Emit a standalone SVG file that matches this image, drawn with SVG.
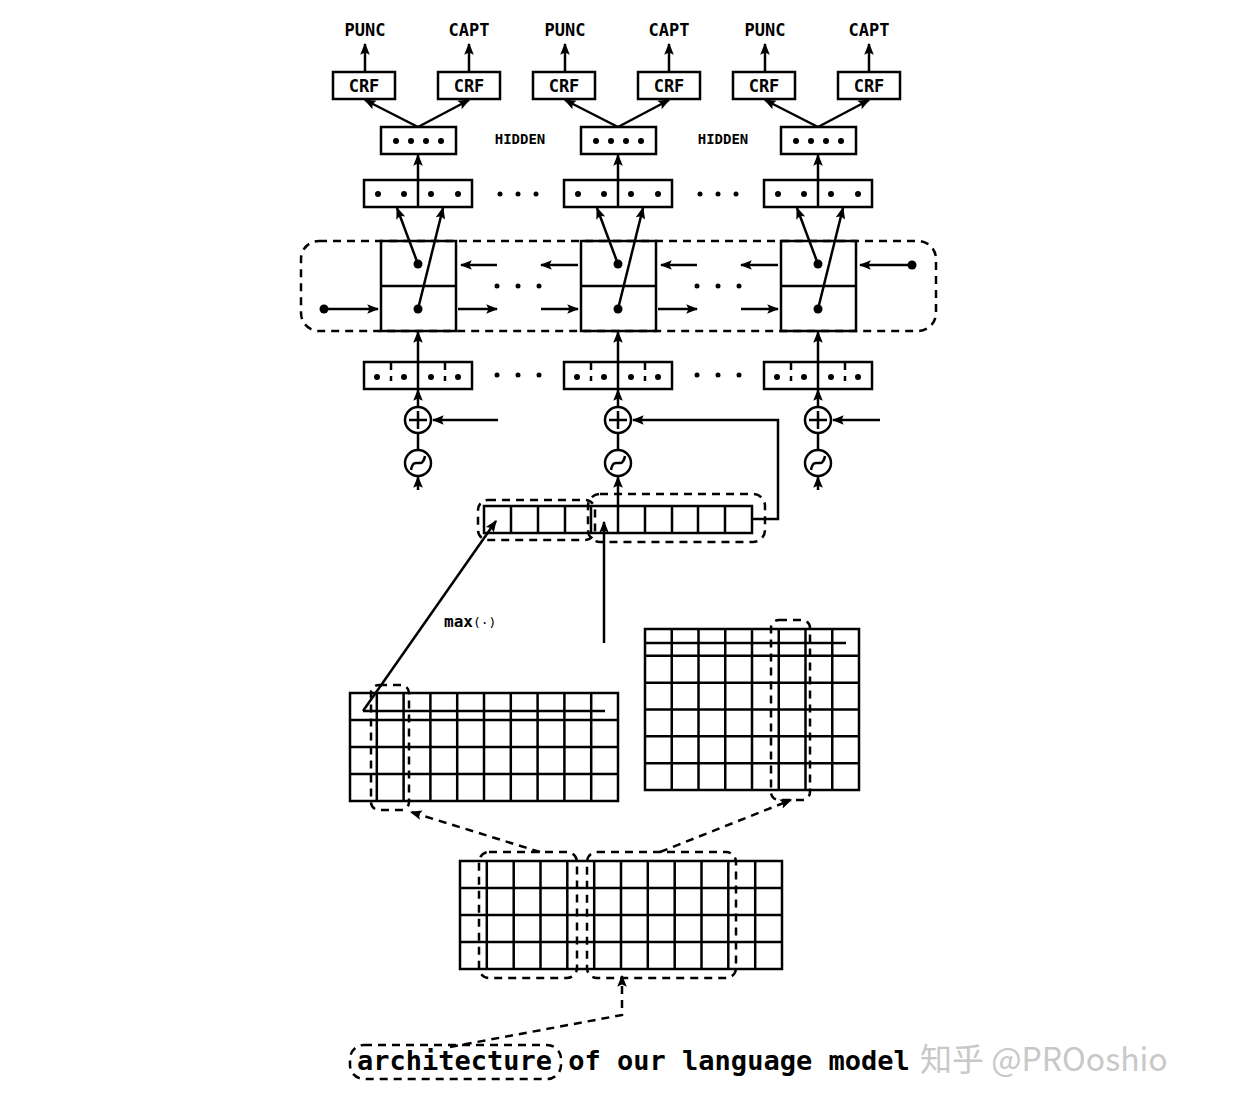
<svg xmlns="http://www.w3.org/2000/svg" width="1240" height="1109" viewBox="0 0 1240 1109">
<style>
.s{fill:none;stroke:#000;stroke-width:2.5}
.d{fill:none;stroke:#000;stroke-width:2.5;stroke-dasharray:8 6}
.b{fill:#fff;stroke:#000;stroke-width:2.5}
.t{font-family:"DejaVu Sans Mono",monospace;font-weight:bold;fill:#000}
.a{fill:none;stroke:#000;stroke-width:2.5;marker-end:url(#ah)}
.ad{fill:none;stroke:#000;stroke-width:2.5;stroke-dasharray:8 6;marker-end:url(#ah)}
</style>
<defs>
<marker id="ah" viewBox="0 0 10 10" refX="9" refY="5" markerWidth="12" markerHeight="12" markerUnits="userSpaceOnUse" orient="auto"><path d="M0,1 L10,5 L0,9 L2,5z" fill="#000"/></marker>
<g id="col">
<text class="t" x="-53" y="36" font-size="17" text-anchor="middle">PUNC</text>
<text class="t" x="51" y="36" font-size="17" text-anchor="middle">CAPT</text>
<rect class="b" x="-85" y="72" width="62" height="27"/>
<rect class="b" x="20" y="72" width="62" height="27"/>
<text class="t" x="-54" y="92" font-size="17" text-anchor="middle">CRF</text>
<text class="t" x="51" y="92" font-size="17" text-anchor="middle">CRF</text>
<rect class="b" x="-37" y="127" width="75" height="27"/>
<g fill="#000"><circle cx="-22" cy="141" r="3"/><circle cx="-7" cy="141" r="3"/><circle cx="8" cy="141" r="3"/><circle cx="23" cy="141" r="3"/></g>
<rect class="b" x="-54" y="180" width="108" height="27"/><path class="s" d="M0,180V207"/>
<g fill="#000"><circle cx="-40" cy="194" r="3"/><circle cx="-14" cy="194" r="3"/><circle cx="13" cy="194" r="3"/><circle cx="40" cy="194" r="3"/></g>
<rect class="b" x="-37" y="241" width="75" height="90"/><path class="s" d="M-37,286H38"/>
<circle cx="0" cy="264" r="4.5"/><circle cx="0" cy="309" r="4.5"/>
<rect class="b" x="-54" y="362" width="108" height="27"/>
<path class="s" d="M0,362V389"/><path class="s" d="M-27,362v8M-27,376v5M27,362v8M27,376v5"/>
<g fill="#000"><circle cx="-41" cy="377" r="3"/><circle cx="-14" cy="377" r="3"/><circle cx="13" cy="377" r="3"/><circle cx="40" cy="377" r="3"/></g>
<circle class="b" cx="0" cy="420" r="13"/><path class="s" d="M-9,420H9M0,411V429"/>
<circle class="b" cx="0" cy="463" r="13"/><path class="s" d="M-7,470C-4,455 4,471 7,456"/>
<path class="a" d="M-53,72V44"/><path class="a" d="M51,72V44"/>
<path class="a" d="M0,127L-53,100"/><path class="a" d="M0,127L51,100"/>
<path class="a" d="M0,180V155"/>
<path class="a" d="M0,264L-21,208"/><path class="a" d="M0,309L25,208"/>
<path class="a" d="M0,362V332"/>
<path class="a" d="M0,407V390"/>
<path class="s" d="M0,433V450"/>
<path class="a" d="M0,490V477"/>
</g>
</defs>
<g id="columns">
<use href="#col" x="418"/>
<use href="#col" x="618"/>
<use href="#col" x="818"/>
</g>
<g id="labels" class="t" font-size="14">
<text x="520" y="144" text-anchor="middle">HIDDEN</text>
<text x="723" y="144" text-anchor="middle">HIDDEN</text>
<text x="444" y="627" font-size="16">max<tspan font-size="13" font-weight="normal">(·)</tspan></text>
</g>
<g id="dots" fill="#000">
<circle cx="500" cy="194" r="2.5"/><circle cx="518" cy="194" r="2.5"/><circle cx="536" cy="194" r="2.5"/>
<circle cx="700" cy="194" r="2.5"/><circle cx="718" cy="194" r="2.5"/><circle cx="736" cy="194" r="2.5"/>
<circle cx="497" cy="286" r="2.5"/><circle cx="518" cy="286" r="2.5"/><circle cx="539" cy="286" r="2.5"/>
<circle cx="697" cy="286" r="2.5"/><circle cx="718" cy="286" r="2.5"/><circle cx="739" cy="286" r="2.5"/>
<circle cx="497" cy="375" r="2.5"/><circle cx="518" cy="375" r="2.5"/><circle cx="539" cy="375" r="2.5"/>
<circle cx="697" cy="375" r="2.5"/><circle cx="718" cy="375" r="2.5"/><circle cx="739" cy="375" r="2.5"/>
<circle cx="324" cy="309" r="4.5"/><circle cx="912" cy="265" r="4.5"/>
</g>
<g id="lstm-frame"><rect class="d" x="301" y="241" width="635" height="90" rx="18"/></g>
<g id="vector">
<rect class="b" x="484" y="506" width="268" height="27"/>
<path class="s" d="M511,506v27M538,506v27M565,506v27M591,506v27M618,506v27M645,506v27M672,506v27M698,506v27M725,506v27"/>
<rect class="d" x="478" y="500" width="117" height="40" rx="10"/>
<rect class="d" x="588" y="494" width="177" height="48" rx="12"/>
</g>
<g id="grid-left">
<rect class="s" x="350" y="693" width="268" height="108"/>
<path class="s" d="M376.8,693v108M403.6,693v108M430.4,693v108M457.2,693v108M484,693v108M510.8,693v108M537.6,693v108M564.4,693v108M591.2,693v108M350,720h268M350,747h268M350,774h268M363,711H605"/>
<rect class="d" x="371" y="685" width="38" height="125" rx="8"/>
</g>
<g id="grid-right">
<rect class="s" x="645" y="629" width="214" height="161"/>
<path class="s" d="M671.75,629v161M698.5,629v161M725.25,629v161M752,629v161M778.75,629v161M805.5,629v161M832.25,629v161M645,655.8h214M645,682.7h214M645,709.5h214M645,736.3h214M645,763.2h214M645,643H846"/>
<rect class="d" x="771" y="620" width="39" height="180" rx="8"/>
</g>
<g id="grid-bottom">
<rect class="s" x="460" y="861" width="322" height="108"/>
<path class="s" d="M486.8,861v108M513.7,861v108M540.5,861v108M567.3,861v108M594.2,861v108M621,861v108M647.8,861v108M674.7,861v108M701.5,861v108M728.3,861v108M755.2,861v108M460,888h322M460,915h322M460,942h322"/>
<rect class="d" x="479" y="852" width="98" height="126" rx="10"/>
<rect class="d" x="587" y="852" width="149" height="126" rx="10"/>
</g>
<g id="connectors">
<path class="a" d="M324,309H378"/>
<path class="a" d="M912,265H860"/>
<path class="a" d="M497,265H461"/><path class="a" d="M578,265H541"/>
<path class="a" d="M697,265H661"/><path class="a" d="M778,265H741"/>
<path class="a" d="M458,309H497"/><path class="a" d="M541,309H578"/>
<path class="a" d="M658,309H697"/><path class="a" d="M741,309H778"/>
<path class="a" d="M498,420H433"/>
<path class="a" d="M752,519H778V420H633"/>
<path class="a" d="M880,420H833"/>
<path class="s" d="M618,506V490"/>
<path class="a" d="M363,711L496,521"/>
<path class="a" d="M604,643V522"/>
<path class="ad" d="M540,852L411,812"/>
<path class="ad" d="M660,852L791,800"/>
<path class="ad" d="M450,1047L622,1015V976"/>
</g>
<g id="caption">
<rect class="d" x="350" y="1045" width="211" height="34" rx="14"/>
<text class="t" x="357" y="1070" font-size="27">architecture of our language model</text>
<text x="920" y="1071" font-size="32" fill="#c8c8c8" font-family="Noto Sans CJK SC, sans-serif">知乎 @PROoshio</text>
</g>
</svg>
